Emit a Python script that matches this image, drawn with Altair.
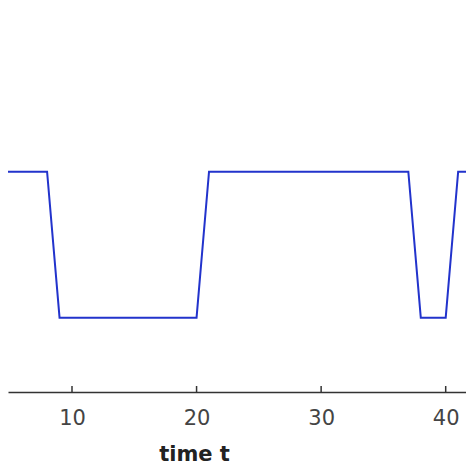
import altair as alt
import pandas as pd

# time steps and the (two-level) state
time_t = list(range(4, 44))
state = [2, 2, 2, 2, 2,            # t = 4..8
         1, 1, 1, 1, 1, 1, 1, 1, 1, 1, 1, 1,   # t = 9..20
         2, 2, 2, 2, 2, 2, 2, 2, 2, 2, 2, 2, 2, 2, 2, 2, 2,  # t = 21..37
         1, 1, 1,                  # t = 38..40
         2, 2, 2]                  # t = 41..43
tick_values = [10, 20, 30, 40]

df = pd.DataFrame({"t": time_t, "s": state})
ticks_df = pd.DataFrame({"t": tick_values})

W, H = 458, 384
xscale = alt.Scale(domain=[4.862, 41.63], nice=False, zero=False)
yscale = alt.Scale(domain=[0.491, 3.121], nice=False, zero=False)

line = alt.Chart(df).mark_line(color="#2233cc", strokeWidth=2, clip=True).encode(
    x=alt.X("t:Q", scale=xscale,
            axis=alt.Axis(values=tick_values, ticks=False, grid=False,
                          domainColor="#333333", domainWidth=1.5,
                          labelFont="DejaVu Sans", labelFontSize=21,
                          labelColor="#444444", labelBaseline="alphabetic",
                          labelPadding=32,
                          title="time t", titleFont="DejaVu Sans",
                          titleFontSize=21, titleFontWeight="bold",
                          titleColor="#222222", titleX=186, titleY=68,
                          titleAlign="center", titleBaseline="alphabetic")),
    y=alt.Y("s:Q", scale=yscale, axis=None),
)

tick_marks = alt.Chart(ticks_df).mark_rule(color="#333333", strokeWidth=1.5).encode(
    x=alt.X("t:Q", scale=xscale),
    y=alt.value(H),
    y2=alt.value(H - 6),
)

chart = alt.layer(line, tick_marks).properties(
    width=W, height=H,
    background="white",
    autosize=alt.AutoSizeParams(type="none"),
    padding={"left": 0, "top": 0, "right": 0, "bottom": 74},
).configure_view(strokeWidth=0, stroke="transparent")

chart.save("out.html", embed_options={"renderer": "svg", "actions": False})
